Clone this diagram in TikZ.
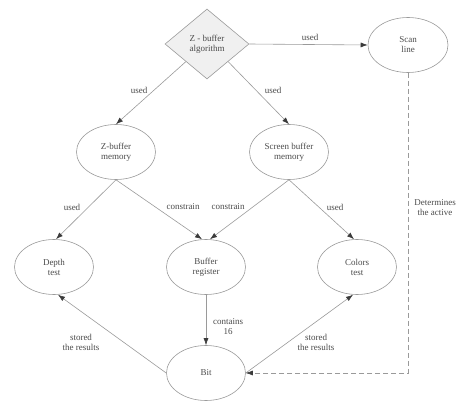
\documentclass[tikz,border=0pt]{standalone}
\usepackage{fontspec}
\setmainfont{Liberation Serif}
\usetikzlibrary{shapes.geometric,arrows.meta}
\definecolor{linec}{HTML}{9A9A9A}
\definecolor{textc}{HTML}{4A4A4A}
\definecolor{tipc}{HTML}{3A3A3A}
\definecolor{fillc}{HTML}{F0F0F0}
\tikzset{
  ell/.style={ellipse, draw=linec, line width=0.6pt, minimum width=79pt, minimum height=55pt, inner sep=0pt, align=center, text=textc, font=\fontsize{9}{10}\selectfont},
  dia/.style={diamond, draw=linec, fill=fillc, line width=0.6pt, minimum width=84pt, minimum height=70pt, inner sep=0pt, align=center, text=textc, font=\fontsize{9}{10}\selectfont},
  lab/.style={align=center, text=textc, inner sep=0pt, font=\fontsize{9}{10}\selectfont},
  conn/.style={draw=linec, line width=0.6pt, -{Latex[length=7pt,width=5pt,color=tipc]}},
  dconn/.style={conn, dash pattern=on 5pt off 3pt}
}
\begin{document}
\begin{tikzpicture}[x=1pt,y=-1pt]
\useasboundingbox (0,0) rectangle (474,409);
\node[dia] (zba) at (207,44) {Z - buffer\\algorithm};
\node[ell, minimum width=80pt] (sl) at (408,45) {Scan\\line};
\node[ell] (zbm) at (116,152) {Z-buffer\\memory};
\node[ell] (sbm) at (289,152) {Screen buffer\\memory};
\node[ell] (dt) at (54,267) {Depth\\test};
\node[ell] (br) at (206,267) {Buffer\\register};
\node[ell] (ct) at (357,267) {Colors\\test};
\node[ell] (bit) at (206,373) {Bit};

\draw[conn] (zba.east) -- (sl.west);
\draw[conn] (zba.south west) -- (zbm.north);
\draw[conn] (zba.south east) -- (sbm.north);
\draw[conn] (zbm.south) -- ([xshift=2pt]dt.north);
\draw[conn] (zbm.south) -- ([xshift=-4pt]br.north);
\draw[conn] (sbm.south) -- ([xshift=4pt]br.north);
\draw[conn] (sbm.south) -- ([xshift=-3pt]ct.north);
\draw[conn] (br.south) -- (bit.north);
\draw[conn] (bit.west) -- ([xshift=4pt]dt.south);
\draw[conn] (bit.east) -- ([xshift=-4pt]ct.south);
\draw[dconn] (sl.south) |- (bit.east);

\node[lab] (l1) at (310,37) {used};
\node[lab] (l2) at (139,90) {used};
\node[lab] (l3) at (273,90) {used};
\node[lab] (l4) at (72,207) {used};
\node[lab] (l5) at (183,207) {constrain};
\node[lab] (l6) at (228,207) {constrain};
\node[lab] (l7) at (335,207) {used};
\node[lab] (l8) at (435,208) {Determines\\the active};
\node[lab] (l9) at (228,327) {contains\\16};
\node[lab] (l10) at (81,342) {stored\\the results};
\node[lab] (l11) at (316,342) {stored\\the results};
\end{tikzpicture}
\end{document}
